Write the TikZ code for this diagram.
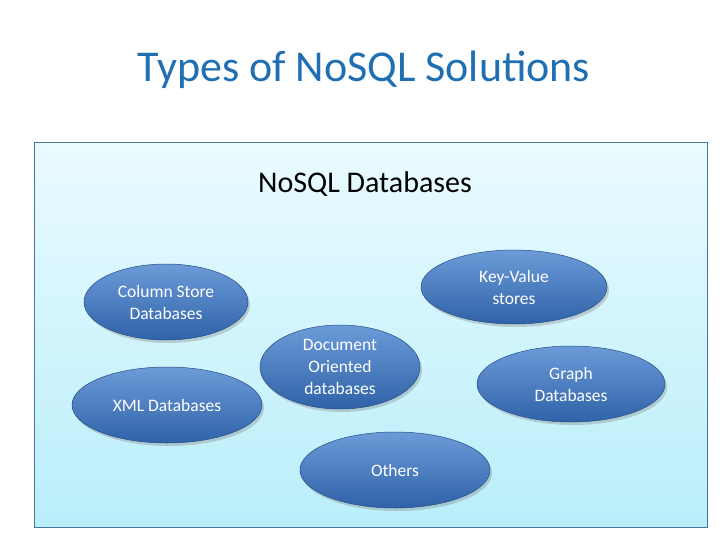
\documentclass[tikz,border=0pt]{standalone}
\usepackage{fontspec}
\setmainfont{Carlito}
\usetikzlibrary{shapes.geometric,shadows}
\definecolor{ttl}{HTML}{1F6FB2}
\definecolor{elTop}{HTML}{6C9BD8}
\definecolor{elBot}{HTML}{2F62A8}
\definecolor{boxTop}{HTML}{EAFBFF}
\definecolor{boxBot}{HTML}{B9EEFA}
\tikzset{
 el/.style={ellipse, minimum width=#1, top color=elTop, bottom color=elBot, draw=elBot!80!black, line width=0.5pt,
  text=white, font=\fontsize{17.5}{22}\selectfont, align=center, inner sep=0pt,
  drop shadow={shadow xshift=2pt,shadow yshift=-3pt,opacity=0.35}},
}
\begin{document}
\begin{tikzpicture}[x=1pt,y=-1pt]
\useasboundingbox (0,0) rectangle (728,546);
\node (title) at (364,70) {\color{ttl}\fontsize{44}{48}\selectfont Types of NoSQL Solutions};
\node[draw=ttl!60!gray, line width=1pt, top color=boxTop, bottom color=boxBot, minimum width=673pt, minimum height=385pt, inner sep=0pt] (box) at (370.5,334.5) {};
\node (hdr) at (365,184) {\fontsize{30}{34}\selectfont NoSQL Databases};
\node[el=164pt, minimum height=76pt] (col) at (166,302) {Column Store\\Databases};
\node[el=186pt, minimum height=74pt] (kv) at (514,287) {Key-Value\\stores};
\node[el=160pt, minimum height=84pt] (doc) at (340,367) {Document\\Oriented\\databases};
\node[el=188pt, minimum height=76pt] (gr) at (571,384) {Graph\\Databases};
\node[el=190pt, minimum height=76pt] (xml) at (167,405) {XML Databases};
\node[el=190pt, minimum height=76pt] (oth) at (395,470) {Others};
\end{tikzpicture}
\end{document}
